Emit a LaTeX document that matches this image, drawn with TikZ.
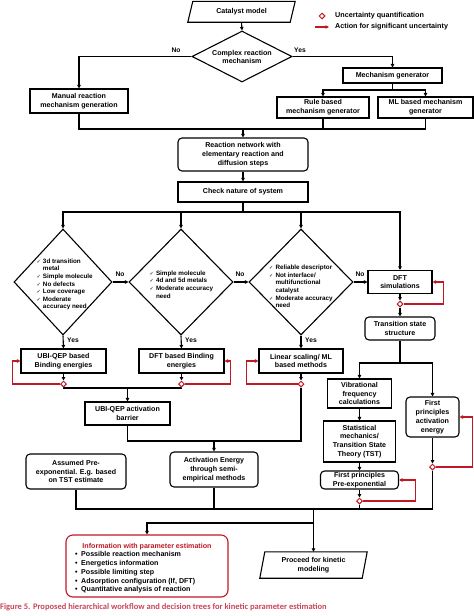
\documentclass[tikz,border=0pt]{standalone}
\usepackage{fontspec}
\setmainfont{Liberation Sans}
\newfontfamily\dejavu{DejaVu Sans}
\newfontfamily\capfont{Carlito}
\usetikzlibrary{arrows.meta,shapes.geometric,calc}
\definecolor{rl}{RGB}{192,24,36}
\definecolor{capc}{RGB}{200,70,90}
\newcommand\ck{\makebox[6.3pt][l]{{\dejavu\fontsize{5}{6}\selectfont ✓}}}
\newcommand\ind{\hspace*{6.3pt}}
\newcommand\bul{\makebox[6pt][l]{\textbullet}}
\begin{document}
\begin{tikzpicture}[x=1pt,y=-1pt,
  every node/.style={inner sep=0pt, font=\bfseries\fontsize{7.1}{8.8}\selectfont},
  box/.style={draw, line width=1.1pt, align=center},
  rbox/.style={box, rounded corners=4pt},
  dia/.style={draw, diamond, line width=1.1pt, inner sep=0pt},
  ln/.style={line width=1.1pt},
  arr/.style={ln, -{Triangle[length=3.5pt,width=3.5pt]}},
  rarr/.style={line width=1.1pt, draw=rl, color=rl, -{Triangle[length=3.5pt,width=3.5pt]}},
  mk/.style={draw=rl, fill=white, diamond, line width=1pt, minimum width=6pt, minimum height=6pt},
  lab/.style={font=\bfseries\fontsize{6.7}{8}\selectfont},
  chk/.style={align=left, anchor=west, font=\bfseries\fontsize{6.3}{7.6}\selectfont},
  leg/.style={anchor=west, font=\bfseries\fontsize{7.2}{8}\selectfont},
]
\fill[white] (0,0) rectangle (474,616);
\useasboundingbox (0,0) rectangle (474,616);

% legend
\node[mk] (lgm) at (322,16) {};
\node[leg] (lg1) at (335,16) {Uncertainty quantification};
\coordinate (la1) at (315,27);
\coordinate (la2) at (329,27);
\draw[rarr] (la1) -- (la2);
\node[leg] (lg2) at (335,27) {Action for significant uncertainty};

% top
\node[minimum width=102pt, minimum height=20.5pt] (cat) at (241.5,11.75) {Catalyst model};
\draw[ln] ([xshift=-2.5pt]cat.south west) -- ([xshift=2.5pt]cat.north west) -- ([xshift=2.5pt]cat.north east) -- ([xshift=-2.5pt]cat.south east) -- cycle;
\node[dia, minimum width=100pt, minimum height=51pt] (d0) at (242,56.5) {};
\node[align=center] (d0t) at (242,57) {Complex reaction\\mechanism};
\node[box, minimum width=98pt, minimum height=24pt] (manual) at (79,101) {Manual reaction\\mechanism generation};
\node[box, minimum width=99pt, minimum height=15pt] (mechgen) at (392.5,75.5) {Mechanism generator};
\node[box, minimum width=92pt, minimum height=21pt] (rule) at (323,107.5) {Rule based\\mechanism generator};
\node[box, minimum width=95pt, minimum height=21pt] (ml) at (425.5,107.5) {ML based mechanism\\generator};
\node[rbox, minimum width=130pt, minimum height=33pt] (rn) at (243,154.5) {Reaction network with\\elementary reaction and\\diffusion steps};
\node[box, minimum width=130pt, minimum height=20pt] (check) at (243,192) {Check nature of system};

% diamonds
\node[dia, minimum width=98pt, minimum height=106pt] (D1) at (63,282) {};
\node[dia, minimum width=104pt, minimum height=106pt] (D2) at (181,282) {};
\node[dia, minimum width=104pt, minimum height=106pt] (D3) at (301,282) {};
\node[chk] (D1t) at (36.5,284.5) {\ck 3d transition\\\ind metal\\\ck Simple molecule\\\ck No defects\\\ck Low coverage\\\ck Moderate\\\ind accuracy need};
\node[chk] (D2t) at (149.5,284.5) {\ck Simple molecule\\\ck 4d and 5d metals\\\ck Moderate accuracy\\\ind need};
\node[chk] (D3t) at (269,286.5) {\ck Reliable descriptor\\\ck Not interface/\\\ind multifunctional\\\ind catalyst\\\ck Moderate accuracy\\\ind need};

\node[box, minimum width=64pt, minimum height=23pt] (dft) at (400,282) {DFT\\simulations};
\node[rbox, minimum width=70pt, minimum height=23pt] (ts) at (400,328.5) {Transition state\\structure};
\node[box, minimum width=85pt, minimum height=24pt] (ubi) at (63.5,361) {UBI-QEP based\\Binding energies};
\node[box, minimum width=85pt, minimum height=24pt] (dftb) at (181.5,361) {DFT based Binding\\energies};
\node[box, minimum width=84pt, minimum height=24pt] (lin) at (301,361) {Linear scaling/ ML\\based methods};
\node[box, minimum width=85pt, minimum height=23pt] (ubiact) at (127.5,413.5) {UBI-QEP activation\\barrier};
\node[box, minimum width=64pt, minimum height=29pt] (vib) at (359.5,393.5) {Vibrational\\frequency\\calculations};
\node[box, minimum width=72pt, minimum height=41pt] (stat) at (359.5,441.5) {Statistical\\mechanics/\\Transition State\\Theory (TST)};
\node[rbox, minimum width=53pt, minimum height=40pt] (fpa) at (432.5,417) {First\\principles\\activation\\energy};
\node[rbox, minimum width=88pt, minimum height=35pt] (actE) at (214,469.5) {Activation Energy\\through semi-\\empirical methods};
\node[rbox, minimum width=100pt, minimum height=35pt] (assumed) at (76,471.5) {Assumed Pre-\\exponential. E.g. based\\on TST estimate};
\node[rbox, minimum width=78pt, minimum height=18pt] (fppre) at (359.5,480) {First principles\\Pre-exponential};
\node[draw=rl, line width=1.1pt, rounded corners=7pt, minimum width=162pt, minimum height=62pt] (info) at (147,566) {};
\node[text=rl] (infot) at (147,547) {Information with parameter estimation};
\node[align=left, anchor=west] (infol) at (75,572.5) {\bul Possible reaction mechanism\\\bul Energetics information\\\bul Possible limiting step\\\bul Adsorption configuration (If, DFT)\\\bul Quantitative analysis of reaction};
\node[align=center, minimum width=102pt, minimum height=26pt] (proceed) at (313.5,565) {Proceed for kinetic\\modeling};
\draw[ln] ([xshift=-2.5pt]proceed.south west) -- ([xshift=2.5pt]proceed.north west) -- ([xshift=2.5pt]proceed.north east) -- ([xshift=-2.5pt]proceed.south east) -- cycle;

% markers
\node[mk] (mu) at (63.5,384) {};
\node[mk] (md) at (181.5,384) {};
\node[mk] (mlin) at (301,384) {};
\node[mk] (mdft) at (400,304) {};
\node[mk] (mfpa) at (432.5,467) {};
\node[mk] (mpre) at (359.5,501) {};

% labels
\node[lab] (no0) at (176,50) {No};
\node[lab] (yes0) at (300,50) {Yes};
\node[lab] (n1) at (120,274) {No};
\node[lab] (n2) at (240,274) {No};
\node[lab] (n3) at (360,274) {No};
\node[lab, anchor=west] (y1) at (67,340) {Yes};
\node[lab, anchor=west] (y2) at (185,340) {Yes};
\node[lab, anchor=west] (y3) at (305,340) {Yes};

% connectors
\draw[arr] (cat.south) -- (d0.north);
\draw[arr] (d0.west) -| (manual.north);
\draw[arr] (d0.east) -| (mechgen.north);
\coordinate (mj) at (392.5,90);
\draw[ln] (mechgen.south) -- (mj);
\draw[arr] (mj) -| (rule.north);
\draw[arr] (mj) -| (ml.north);
\coordinate (j1) at (243,129);
\draw[ln] (manual.south) |- (j1);
\draw[ln] (ml.south) |- (j1);
\draw[ln] (rule.south) -- (rule.south |- j1);
\draw[arr] (j1) -- (rn.north);
\draw[arr] (rn.south) -- (check.north);
\coordinate (j2) at (243,212);
\draw[ln] (check.south) -- (j2);
\draw[arr] (j2) -| (D1.north);
\draw[arr] (j2) -| (D2.north);
\draw[arr] (j2) -| (D3.north);
\draw[arr] (j2) -| (dft.north);
\draw[arr] (D1.east) -- (D2.west);
\draw[arr] (D2.east) -- (D3.west);
\draw[arr] (D3.east) -- (dft.west);
\draw[arr] (D1.south) -- (ubi.north);
\draw[arr] (D2.south) -- (dftb.north);
\draw[arr] (D3.south) -- (lin.north);

\draw[arr] (ubi.south) -- (mu.north);
\draw[arr] (dftb.south) -- (md.north);
\draw[arr] (lin.south) -- (mlin.north);
\draw[rarr] (mu.west) -| ([xshift=-8pt]ubi.west) -- (ubi.west);
\draw[rarr] (md.east) -| ([xshift=6pt]dftb.east) -- (dftb.east);
\draw[rarr] (mlin.west) -| ([xshift=-12pt]lin.west) -- (lin.west);
\coordinate (j3) at (127.5,388);
\draw[ln] (mu.south) |- (j3);
\draw[ln] (md.south) |- (j3);
\draw[arr] (j3) -- (ubiact.north);
\coordinate (j4) at (214,441);
\draw[ln] (ubiact.south) |- (j4);
\draw[ln] (mlin.south) |- (j4);
\draw[arr] (j4) -- (actE.north);

\draw[arr] (dft.south) -- (mdft.north);
\draw[rarr] (mdft.east) -| ([xshift=11pt]dft.east) -- (dft.east);
\draw[arr] (mdft.south) -- (ts.north);
\coordinate (j5) at (400,363);
\draw[ln] (ts.south) -- (j5);
\draw[arr] (j5) -| (vib.north);
\draw[arr] (j5) -| (fpa.north);
\draw[arr] (vib.south) -- (stat.north);
\draw[arr] (stat.south) -- (fppre.north);
\draw[arr] (fppre.south) -- (mpre.north);
\draw[rarr] (mpre.east) -| ([xshift=16pt]fppre.east) -- (fppre.east);
\draw[arr] (fpa.south) -- (mfpa.north);
\draw[rarr] (mfpa.east) -| ([xshift=13pt]fpa.east) -- (fpa.east);

\coordinate (j6) at (313.5,509);
\draw[ln] (assumed.south) |- (j6);
\draw[ln] (mfpa.south) |- (j6);
\draw[ln] (actE.south) -- (actE.south |- j6);
\draw[ln] (mpre.south) -- (mpre.south |- j6);
\coordinate (j7) at (313.5,523);
\draw[ln] (j6) -- (j7);
\draw[arr] (j7) -| (info.north);
\draw[arr] (j7) -- (proceed.north);

% caption
\node[anchor=west, text=capc, font=\capfont\bfseries\fontsize{8.5}{9}\selectfont] (cap) at (0,607) {Figure 5. Proposed hierarchical workflow and decision trees for kinetic parameter estimation};
\end{tikzpicture}
\end{document}
